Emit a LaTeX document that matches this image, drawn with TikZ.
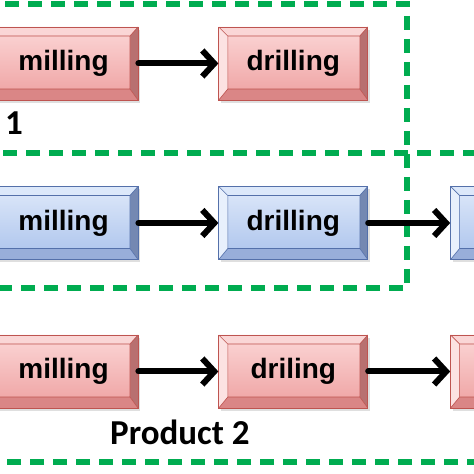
\documentclass[tikz,border=0pt]{standalone}
\usepackage{fontspec}
\setmainfont{Liberation Sans}
\newfontfamily\productfont{Carlito}
\usetikzlibrary{arrows.meta,positioning,calc,shadows}

% palettes
\definecolor{redtop}{RGB}{250,214,214}
\definecolor{redleft}{RGB}{252,226,226}
\definecolor{redright}{RGB}{184,112,112}
\definecolor{redbottom}{RGB}{218,134,134}
\definecolor{redhi}{RGB}{250,208,208}
\definecolor{redlo}{RGB}{240,168,168}
\definecolor{redline}{RGB}{190,84,80}
\definecolor{bluetop}{RGB}{220,232,250}
\definecolor{blueleft}{RGB}{232,240,252}
\definecolor{blueright}{RGB}{116,136,178}
\definecolor{bluebottom}{RGB}{152,174,218}
\definecolor{bluehi}{RGB}{216,228,248}
\definecolor{bluelo}{RGB}{178,200,238}
\definecolor{blueline}{RGB}{84,112,170}
\definecolor{grpgreen}{RGB}{0,172,80}

\newcommand{\bevelfaces}[1]{%
  \path (path picture bounding box.north west) coordinate (oNW)
        (path picture bounding box.north east) coordinate (oNE)
        (path picture bounding box.south east) coordinate (oSE)
        (path picture bounding box.south west) coordinate (oSW);
  \path ($(oNW)+(9,-9)$) coordinate (iNW) ($(oNE)+(-8,-9)$) coordinate (iNE)
        ($(oSE)+(-8,11)$) coordinate (iSE) ($(oSW)+(9,11)$) coordinate (iSW);
  \fill[#1top] (oNW) -- (oNE) -- (iNE) -- (iNW) -- cycle;
  \fill[#1left] (oNW) -- (iNW) -- (iSW) -- (oSW) -- cycle;
  \fill[#1right] (oNE) -- (oSE) -- (iSE) -- (iNE) -- cycle;
  \fill[#1bottom] (oSW) -- (iSW) -- (iSE) -- (oSE) -- cycle;
  \shade[top color=#1hi, bottom color=#1lo] (iSW) rectangle (iNE);
  \draw[#1line, line width=0.6pt] (iSW) rectangle (iNE)
        (oNW) -- (iNW) (oNE) -- (iNE) (oSE) -- (iSE) (oSW) -- (iSW);
}

\tikzset{
  machine/.style={rectangle, minimum width=149pt, minimum height=73pt, inner sep=0pt,
    font=\bfseries\fontsize{28}{31}\selectfont,
    drop shadow={shadow xshift=2pt, shadow yshift=-3pt, opacity=0.25}},
  redbox/.style={machine, draw=redline, line width=0.8pt, path picture={\bevelfaces{red}}},
  bluebox/.style={machine, draw=blueline, line width=0.8pt, path picture={\bevelfaces{blue}}},
  flow/.style={-{Straight Barb[length=12pt,width=26pt]}, line width=6pt, line cap=round, line join=round},
  group/.style={draw=grpgreen, line width=5.5pt, dash pattern=on 14pt off 9pt},
  product/.style={inner sep=0pt, font=\productfont\bfseries\fontsize{35}{38}\selectfont},
}

\begin{document}
\begin{tikzpicture}[x=1pt,y=1pt]
\useasboundingbox (0,0) rectangle (474,474);
\clip (0,0) rectangle (474,474);

% Product groups
\draw[group] (-10,186) rectangle (407,470);
\draw[group] (-10,12) rectangle (490,321);

% Product 1 only
\node[redbox] (m1) at (63.5,410.5) {milling};
\node[redbox, right=80pt of m1] (d1) {drilling};

% shared
\node[bluebox] (m2) at (63.5,251) {milling};
\node[bluebox, right=80pt of m2] (d2) {drilling};
\node[bluebox, right=82pt of d2] (x2) {};

% Product 2 only
\node[redbox] (m3) at (63.5,102.5) {milling};
\node[redbox, right=80pt of m3] (d3) {driling};
\node[redbox, right=82pt of d3] (x3) {};

% Flow
\draw[flow] (m1) -- (d1);
\draw[flow] (m2) -- (d2);
\draw[flow] (d2) -- (x2);
\draw[flow] (m3) -- (d3);
\draw[flow] (d3) -- (x3);

% Labels
\node[product, anchor=east] (p1) at (23,352) {Product 1};
\node[product, anchor=west] (p2) at (110,42) {Product 2};
\end{tikzpicture}
\end{document}
